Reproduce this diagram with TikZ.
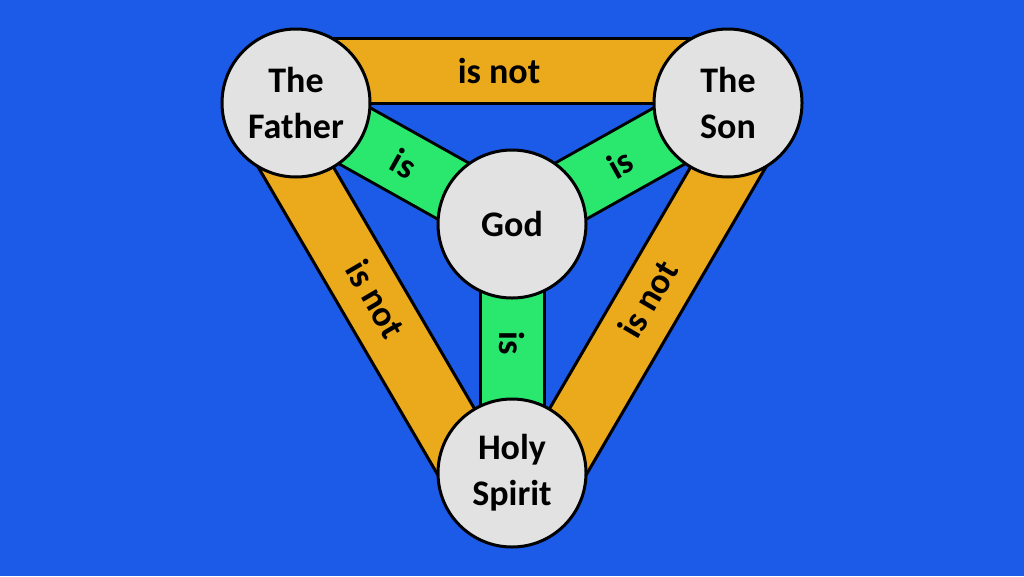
\documentclass[tikz,border=0pt]{standalone}
\usepackage{fontspec}
\setmainfont{Carlito}
\usetikzlibrary{calc,backgrounds}
\definecolor{Sky}{HTML}{1C5BE8}
\definecolor{Gold}{HTML}{EBAA1C}
\definecolor{Mint}{HTML}{2AE86E}
\definecolor{Stone}{HTML}{E2E2E2}
\tikzset{
  person/.style={circle,draw=black,line width=3pt,fill=Stone,minimum size=148pt,
    inner sep=0pt,align=center,font=\bfseries\fontsize{36}{46}\selectfont},
  notband/.style={draw=black,line width=3pt,fill=Gold,line join=round},
  bandtext/.style={font=\bfseries\fontsize{36}{40}\selectfont,inner sep=0pt}
}
\begin{document}
\begin{tikzpicture}[x=1pt,y=-1pt]
  \useasboundingbox (0,0) rectangle (1024,576);
  \node[person] (F) at (296,103) {The\\Father};
  \node[person] (S) at (728,103) {The\\Son};
  \node[person] (G) at (512,224) {God};
  \node[person] (H) at (512,473) {Holy\\Spirit};
  \begin{scope}[on background layer]
    \fill[Sky] (0,0) rectangle (1024,576);
    % is not
    \filldraw[notband] (F.center) -- ($(F.center)!65pt!90:(S.center)$)
      -- ($(S.center)!65pt!-90:(F.center)$) -- (S.center) -- cycle;
    \filldraw[notband] (F.center) -- ($(F.center)!65pt!-90:(H.center)$)
      -- ($(H.center)!65pt!90:(F.center)$) -- (H.center) -- cycle;
    \filldraw[notband] (S.center) -- ($(S.center)!65pt!90:(H.center)$)
      -- ($(H.center)!65pt!-90:(S.center)$) -- (H.center) -- cycle;
    % is
    \foreach \p in {F,S,H}{
      \draw[black,line width=67pt] (G.center) -- (\p.center);
      \draw[Mint,line width=61pt] (G.center) -- (\p.center);
    }
  \end{scope}
  \node[bandtext] (fs) at (499,71) {is not};
  \node[bandtext,rotate=-59.7] (fh) at (376,299) {is not};
  \node[bandtext,rotate=59.7] (sh) at (648,299) {is not};
  \node[bandtext,rotate=-29.3] (fg) at ($(F)!0.5!(G)$) {is};
  \node[bandtext,rotate=29.3] (sg) at ($(S)!0.5!(G)$) {is};
  \node[bandtext,rotate=-90] (gh) at ($(G)!0.48!(H)$) {is};
\end{tikzpicture}
\end{document}
